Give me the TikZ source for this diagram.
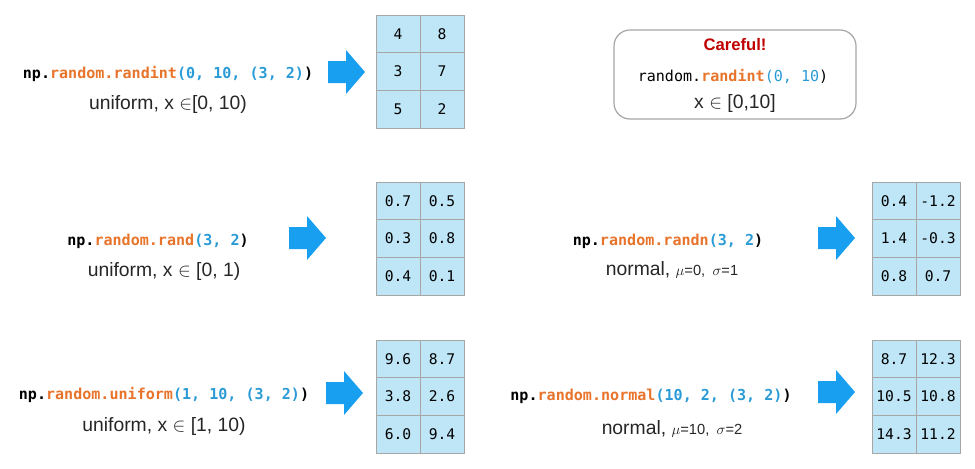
\documentclass[tikz,border=0pt]{standalone}
\usepackage{fontspec}
\setmainfont{Liberation Sans}
\newfontfamily\codefont{DejaVu Sans Mono}
\definecolor{orng}{HTML}{E8732A}
\definecolor{blu}{HTML}{2A9BD6}
\definecolor{arr}{HTML}{189FF0}
\definecolor{cellf}{HTML}{BEE6F7}
\definecolor{carered}{HTML}{C00000}
\newcommand{\fn}[1]{\textcolor{orng}{#1}}
\newcommand{\ar}[1]{\textcolor{blu}{#1}}
\begin{document}
\begin{tikzpicture}[x=0.75pt,y=-0.75pt,
 code/.style={font=\codefont\bfseries\fontsize{11.3}{12}\selectfont,inner sep=0pt},
 sub/.style={font=\fontsize{14.5}{16}\selectfont,inner sep=0pt,text=black!85},
 cell/.style={draw=gray!70,fill=cellf,line width=0.6pt,minimum width=33pt,minimum height=28.5pt,inner sep=0pt,font=\codefont\fontsize{11}{12}\selectfont}]
\useasboundingbox (0,0) rectangle (975,468);
\newcommand{\grid}[8]{%
 \node[cell] (#1a) at (#2+22,#3+19) {#4};
 \node[cell] (#1b) at (#2+66,#3+19) {#5};
 \node[cell] (#1c) at (#2+22,#3+56.5) {#6};
 \node[cell] (#1d) at (#2+66,#3+56.5) {#7};
 \node[cell] (#1e) at (#2+22,#3+94) {#8};}
\newcommand{\lastcell}[4]{\node[cell] (#1f) at (#2+66,#3+94) {#4};}
\newcommand{\bigarrow}[3]{%
 \coordinate (#1) at (#2,#3);
 \fill[arr] ([shift={(-18,-11)}]#1) -- ([shift={(0,-11)}]#1) -- ([shift={(0,-22)}]#1) -- ([shift={(19,0)}]#1) -- ([shift={(0,22)}]#1) -- ([shift={(0,11)}]#1) -- ([shift={(-18,11)}]#1) -- cycle;}
\grid{g1}{376}{15}{4}{8}{3}{7}{5}\lastcell{g1}{376}{15}{2}
\grid{g2}{376}{182}{0.7}{0.5}{0.3}{0.8}{0.4}\lastcell{g2}{376}{182}{0.1}
\grid{g3}{376}{340}{9.6}{8.7}{3.8}{2.6}{6.0}\lastcell{g3}{376}{340}{9.4}
\grid{g4}{872}{182}{0.4}{-1.2}{1.4}{-0.3}{0.8}\lastcell{g4}{872}{182}{0.7}
\grid{g5}{872}{340}{8.7}{12.3}{10.5}{10.8}{14.3}\lastcell{g5}{872}{340}{11.2}
\bigarrow{a1}{346}{72}
\bigarrow{a2}{307}{238}
\bigarrow{a3}{344}{393}
\bigarrow{a4}{836}{238}
\bigarrow{a5}{836}{392}
\node[code] (c1) at (168,74) {np.\fn{random.randint}\ar{(0, 10, (3, 2)})};
\node[sub] (s1) at (168,104) {uniform, x $\in$[0, 10)};
\node[code] (c2) at (158,241) {np.\fn{random.rand}\ar{(3, 2})};
\node[sub] (s2) at (164,271) {uniform, x $\in$ [0, 1)};
\node[code] (c3) at (164,395) {np.\fn{random.uniform}\ar{(1, 10, (3, 2)})};
\node[sub] (s3) at (164,426) {uniform, x $\in$ [1, 10)};
\node[code] (c4) at (668,241) {np.\fn{random.randn}\ar{(3, 2})};
\node[sub] (s4) at (672,270) {normal, {\fontsize{11}{12}\selectfont$\mu$=0,\enspace $\sigma$=1}};
\node[code] (c5) at (651,396) {np.\fn{random.normal}\ar{(10, 2, (3, 2)})};
\node[sub] (s5) at (672,429) {normal, {\fontsize{11}{12}\selectfont$\mu$=10,\enspace $\sigma$=2}};
\draw[gray!70,line width=0.9pt,rounded corners=12pt] (614,30) rectangle (856,119);
\node[font=\bfseries\fontsize{12.5}{14}\selectfont,text=carered,inner sep=0pt] (t) at (735,45) {Careful!};
\node[code,font=\codefont\fontsize{11.3}{12}\selectfont] (c6) at (733,76) {random.\textbf{\fn{randint}}\ar{(0, 10})};
\node[sub] (s6) at (735,103) {x $\in$ [0,10]};
\end{tikzpicture}
\end{document}
